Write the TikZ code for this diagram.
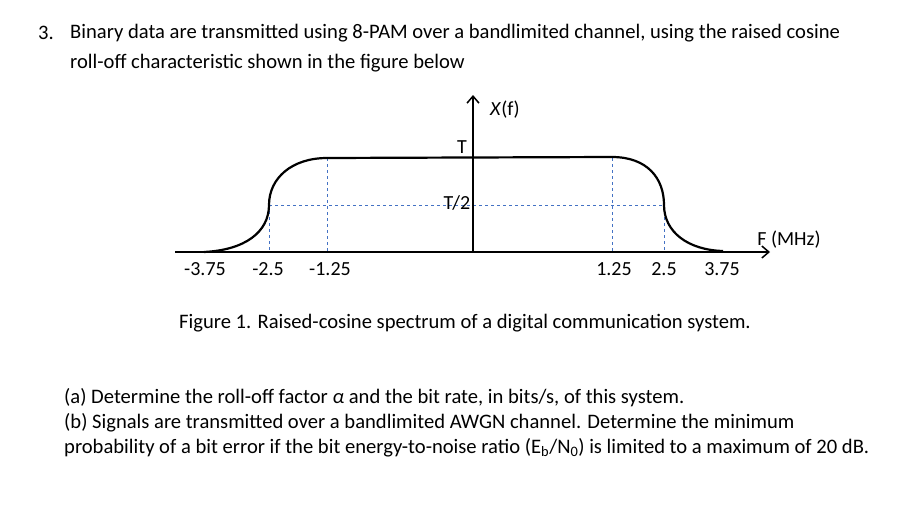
\documentclass[tikz,border=0pt]{standalone}
\usepackage{fontspec}
\setmainfont{Carlito}
\usetikzlibrary{arrows.meta}
\begin{document}
\begin{tikzpicture}[x=1pt,y=-1pt,
  txt/.style={font=\fontsize{20.6}{24}\selectfont,inner sep=0pt},
  lbl/.style={font=\fontsize{20}{24}\selectfont,inner sep=0pt},
  dsh/.style={dashed,draw={rgb,255:red,68;green,114;blue,196},line width=0.8pt},
  curve/.style={line width=2.2pt},
  axis/.style={line width=1.5pt}]
\useasboundingbox (0,0) rectangle (899,514);
\node[txt,anchor=west] (n3) at (38,33) {3.};
\node[txt,anchor=west] (l1) at (70,33) {Binary data are transmitted using 8-PAM over a bandlimited channel, using the raised cosine};
\node[txt,anchor=west] (l2) at (70,63) {roll-off characteristic shown in the figure below};
% dashed guides
\draw[dsh] (269,205) -- (664,205);
\draw[dsh] (269,205) -- (269,252);
\draw[dsh] (327,158) -- (327,252);
\draw[dsh] (612,158) -- (612,252);
\draw[dsh] (664,205) -- (664,252);
% axes
\coordinate (xl) at (175,252);
\coordinate (xr) at (770,252);
\coordinate (yb) at (473,252);
\coordinate (yt) at (473,95);
\draw[axis,-{Straight Barb[length=7pt,width=12pt]}] (xl) -- (xr);
\draw[axis,-{Straight Barb[length=7pt,width=12pt]}] (yb) -- (yt);
% spectrum
\draw[curve] (204,252) .. controls (245,250) and (269,232) .. (269,205)
  .. controls (269,178) and (292,158) .. (327,158) -- (612,157)
  .. controls (647,157) and (664,178) .. (664,205)
  .. controls (664,232) and (688,250) .. (723,251);
% labels
\node[lbl] (xf) at (505,110) {\textit{X}(f)};
\node[lbl] (tT) at (462,147) {T};
\node[lbl] (tT2) at (457,203) {T/2};
\node[lbl] (fm) at (789,240) {F (MHz)};
\node[lbl] (a1) at (205,269) {-3.75};
\node[lbl] (a2) at (268,269) {-2.5};
\node[lbl] (a3) at (330,269) {-1.25};
\node[lbl] (a4) at (614,269) {1.25};
\node[lbl] (a5) at (664,269) {2.5};
\node[lbl] (a6) at (722,269) {3.75};
\node[txt] (cap) at (465,323) {Figure 1. Raised-cosine spectrum of a digital communication system.};
\node[txt,anchor=west] (pa) at (64,398) {(a) Determine the roll-off factor \textit{α} and the bit rate, in bits/s, of this system.};
\node[txt,anchor=west] (pb1) at (64,423) {(b) Signals are transmitted over a bandlimited AWGN channel. Determine the minimum};
\node[txt,anchor=west] (pb2) at (64,448) {probability of a bit error if the bit energy-to-noise ratio (E\textsubscript{b}/N\textsubscript{0}) is limited to a maximum of 20 dB.};
\end{tikzpicture}
\end{document}
